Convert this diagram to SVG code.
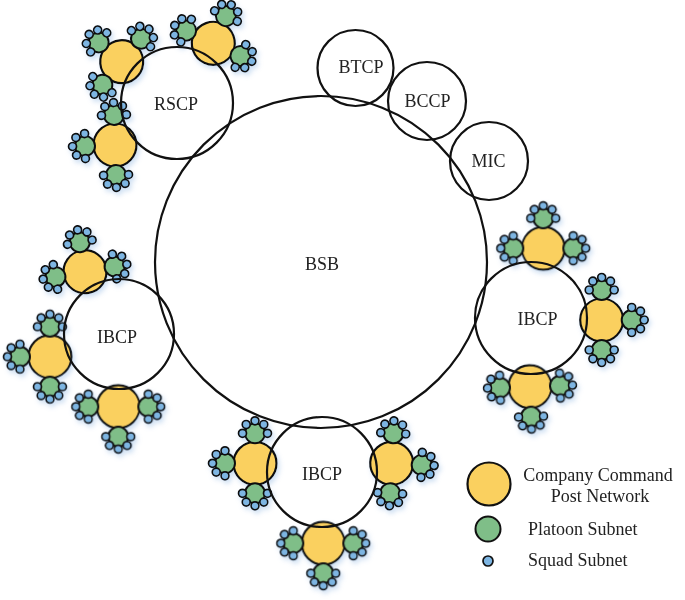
<svg xmlns="http://www.w3.org/2000/svg" xmlns:xlink="http://www.w3.org/1999/xlink" width="685" height="600" viewBox="0 0 685 600">
<style>
.y{fill:#FAD05F;stroke:#111;stroke-width:2.2}
.g{fill:#7FBE88;stroke:#111;stroke-width:2}
.b{fill:#7DB5E2;stroke:#111;stroke-width:1.7}
.ring{fill:none;stroke:#111;stroke-width:2.2}
.t{font-family:"Liberation Serif","Times New Roman",serif;font-size:18px;fill:#222;text-anchor:middle}
.lt{font-family:"Liberation Serif","Times New Roman",serif;font-size:18px;fill:#222}
</style>
<defs>
<filter id="sh" x="-30%" y="-30%" width="160%" height="160%">
<feGaussianBlur in="SourceAlpha" stdDeviation="2.5" result="bl"/>
<feOffset in="bl" dx="2" dy="3" result="of"/>
<feFlood flood-color="#9ec0e6" flood-opacity="0.5"/>
<feComposite in2="of" operator="in" result="s"/>
<feMerge><feMergeNode in="s"/><feMergeNode in="SourceGraphic"/></feMerge>
</filter>
<g id="cl">
<circle class="y" r="21.5"/>
<circle class="g" cx="30" cy="0" r="10"/>
<circle class="g" cx="0" cy="-30" r="10"/>
<circle class="g" cx="0" cy="30" r="10"/>
<circle class="b" cx="30" cy="-12.5" r="4"/>
<circle class="b" cx="38.8" cy="-8.8" r="4"/>
<circle class="b" cx="42.5" cy="0" r="4"/>
<circle class="b" cx="38.8" cy="8.8" r="4"/>
<circle class="b" cx="30" cy="12.5" r="4"/>
<circle class="b" cx="-12.5" cy="-30" r="4"/>
<circle class="b" cx="-8.8" cy="-38.8" r="4"/>
<circle class="b" cx="0" cy="-42.5" r="4"/>
<circle class="b" cx="8.8" cy="-38.8" r="4"/>
<circle class="b" cx="12.5" cy="-30" r="4"/>
<circle class="b" cx="12.5" cy="30" r="4"/>
<circle class="b" cx="8.8" cy="38.8" r="4"/>
<circle class="b" cx="0" cy="42.5" r="4"/>
<circle class="b" cx="-8.8" cy="38.8" r="4"/>
<circle class="b" cx="-12.5" cy="30" r="4"/>
</g>
</defs>
<rect width="685" height="600" fill="#fff"/>
<g id="clusters" filter="url(#sh)">
<use xlink:href="#cl" href="#cl" transform="translate(121.7,61.7) rotate(-140)"/>
<use xlink:href="#cl" href="#cl" transform="translate(213.3,43.3) rotate(-65)"/>
<use xlink:href="#cl" href="#cl" transform="translate(115,145) rotate(178)"/>
<use xlink:href="#cl" href="#cl" transform="translate(85,271.7) rotate(-100)"/>
<use xlink:href="#cl" href="#cl" transform="translate(50,356.7) rotate(180)"/>
<use xlink:href="#cl" href="#cl" transform="translate(118.3,406.7) rotate(90)"/>
<use xlink:href="#cl" href="#cl" transform="translate(543.3,248.3) rotate(-90)"/>
<use xlink:href="#cl" href="#cl" transform="translate(601.7,320) rotate(0)"/>
<use xlink:href="#cl" href="#cl" transform="translate(530,386.7) rotate(88)"/>
<use xlink:href="#cl" href="#cl" transform="translate(255,463.3) rotate(180)"/>
<use xlink:href="#cl" href="#cl" transform="translate(391.7,463.3) rotate(3)"/>
<use xlink:href="#cl" href="#cl" transform="translate(323.3,543.3) rotate(90)"/>
</g>
<g id="BSB"><circle class="ring" cx="321" cy="262" r="166"/><text class="t" x="322" y="270">BSB</text></g>
<g id="RSCP"><circle class="ring" cx="177" cy="103" r="56"/><text class="t" x="176" y="110">RSCP</text></g>
<g id="BTCP"><circle class="ring" cx="355.5" cy="68" r="38"/><text class="t" x="361" y="73">BTCP</text></g>
<g id="BCCP"><circle class="ring" cx="427" cy="101" r="39"/><text class="t" x="427.5" y="107">BCCP</text></g>
<g id="MIC"><circle class="ring" cx="489" cy="161" r="39"/><text class="t" x="488.5" y="167">MIC</text></g>
<g id="IBCP-left"><circle class="ring" cx="119" cy="334" r="55"/><text class="t" x="117" y="343">IBCP</text></g>
<g id="IBCP-right"><circle class="ring" cx="531" cy="318" r="56"/><text class="t" x="537.5" y="325">IBCP</text></g>
<g id="IBCP-bottom"><circle class="ring" cx="322" cy="472" r="55"/><text class="t" x="322" y="480">IBCP</text></g>
<g id="legend">
<circle class="y" cx="489" cy="484" r="21.5"/>
<circle class="g" cx="488" cy="529" r="12.5" stroke-width="2.2"/>
<circle class="b" cx="488" cy="561" r="5" stroke-width="2"/>
<text class="t" x="598" y="481">Company Command</text>
<text class="t" x="600" y="502">Post Network</text>
<text class="lt" x="528" y="535">Platoon Subnet</text>
<text class="lt" x="528" y="566">Squad Subnet</text>
</g>
</svg>
